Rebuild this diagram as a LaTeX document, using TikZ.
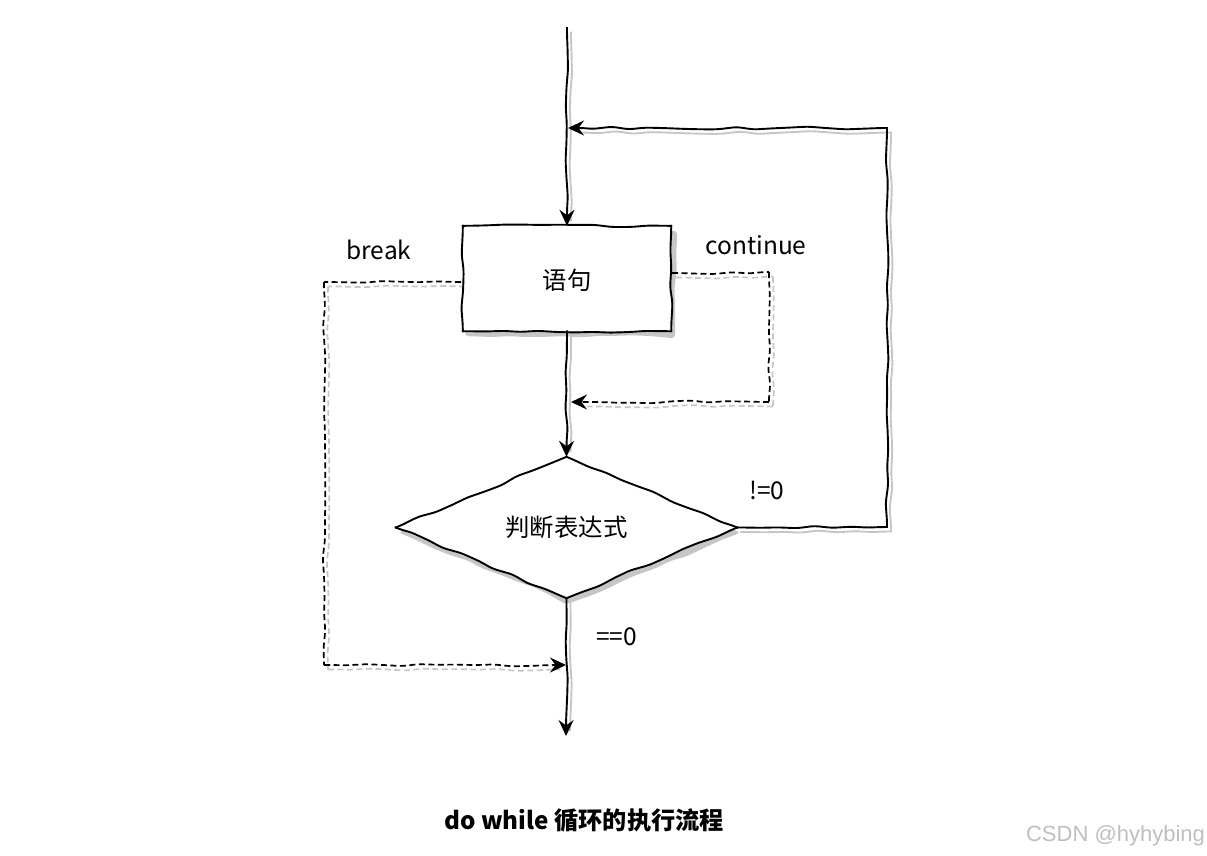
\documentclass[tikz,border=0pt]{standalone}
\usepackage{fontspec}
\setmainfont{Noto Sans CJK SC}
\usetikzlibrary{shapes.geometric,decorations.pathmorphing,arrows.meta,backgrounds}
\definecolor{shadowgray}{HTML}{C6C6C6}
\definecolor{markgray}{HTML}{BEBEBE}
\tikzset{
  x=1pt,y=-1pt,
  wobble/.style={decorate=false,rounded corners=4pt,
    decoration={random steps,segment length=18pt,amplitude=1.5pt,pre length=6pt,post length=#1}},
  wobble/.default=6pt,
  linebase/.style={wobble,line width=1.9pt,line cap=rect},
  mainline/.style={linebase,draw=black},
  shadeline/.style={linebase,draw=shadowgray,transform canvas={shift={(4pt,-4.5pt)}}},
  shadeend/.style={},
  tipped/.style={wobble=15pt,shadeend/.style={shorten >=10pt},-{Stealth[length=16pt,width=15pt,inset=5.5pt]}},
  dashedline/.style={dash pattern=on 6pt off 3.5pt,line width=1.7pt,line cap=butt},
  boxshape/.style={rectangle,minimum width=208pt,minimum height=105pt,inner sep=0pt},
  decisionshape/.style={diamond,aspect=2.42,minimum width=341pt,minimum height=141pt,inner sep=0pt},
  lbl/.style={font=\fontsize{24.5}{30}\selectfont,inner sep=0pt},
  cjklbl/.style={font=\fontsize{24.4}{30}\selectfont,inner sep=0pt},
  titlelbl/.style={font=\fontsize{24.2}{30}\selectfont\bfseries,inner sep=0pt},
  marklbl/.style={font=\fontsize{22}{26}\selectfont, text=markgray,inner sep=0pt},
}
\newfontfamily\markfont{Liberation Sans}
% one straight leg of a connector: #1 style, #2 seed, #3 from, #4 to
\newcommand{\sketchleg}[4][]{%
  \begin{scope}[on background layer]
    \pgfmathsetseed{#2}
    \draw[shadeline,#1,shadeend,-] decorate {(#3) -- (#4)};
  \end{scope}
  \pgfmathsetseed{#2}
  \draw[mainline,#1] decorate {(#3) -- (#4)};
}
% one edge of a shape outline
\newcommand{\sketchedge}[3]{%
  \pgfmathsetseed{#1}
  \draw[mainline] decorate {(#2) -- (#3)};
}
\begin{document}
\begin{tikzpicture}
\useasboundingbox (0,0) rectangle (1207,855);

% nodes
\node[boxshape,cjklbl,text height=22.5pt,text depth=0pt] (stmt) at (567,278.5) {语句};
\node[decisionshape,cjklbl] (cond) at (566.5,527.5) {判断表达式};

\node[lbl] (lbreak) at (379,250) {break};
\node[lbl] (lcont) at (756,245) {continue};
\node[lbl] (lne) at (767,490) {!=0};
\node[lbl] (leq) at (616.5,637) {==0};
\node[titlelbl] (title) at (584,820) {do while 循环的执行流程};
\node[marklbl] (mark) at (1115.5,836) {\markfont CSDN @hyhybing};

% free ends of connectors
\coordinate (top) at (567,28);
\coordinate (bottom) at (566,736);
\coordinate (loopin) at (568,128);
\coordinate (loopne) at (887,128);
\coordinate (loopse) at (887,527);
\coordinate (brkout) at (461,282);
\coordinate (brknw) at (324,282);
\coordinate (brksw) at (324,665);
\coordinate (brkin) at (566,665);
\coordinate (contout) at (672,273);
\coordinate (contne) at (769,272);
\coordinate (contse) at (769,402);
\coordinate (contin) at (571,402);

% connectors
\sketchleg[tipped]{3}{top}{stmt.north}
\sketchleg[tipped]{5}{stmt.south}{cond.north}
\sketchleg[tipped]{7}{cond.south}{bottom}
\sketchleg{9}{cond.east}{loopse}
\sketchleg{10}{loopse}{loopne}
\sketchleg[tipped]{12}{loopne}{loopin}
\sketchleg[dashedline]{13}{brkout}{brknw}
\sketchleg[dashedline]{14}{brknw}{brksw}
\sketchleg[dashedline,tipped]{15}{brksw}{brkin}
\sketchleg[dashedline]{17}{contout}{contne}
\sketchleg[dashedline]{18}{contne}{contse}
\sketchleg[dashedline,tipped]{19}{contse}{contin}

% shape shadows, fills and outlines
\begin{scope}[on background layer]
  \pgfmathsetseed{31}
  \fill[shadowgray,wobble,transform canvas={shift={(4pt,-5pt)}}]
    decorate {(stmt.north west) -- (stmt.north east) -- (stmt.south east) -- (stmt.south west) -- cycle};
  \fill[white] (stmt.north west) -- (stmt.north east) -- (stmt.south east) -- (stmt.south west) -- cycle;
  \sketchedge{41}{stmt.north west}{stmt.north east}
  \sketchedge{42}{stmt.north east}{stmt.south east}
  \sketchedge{43}{stmt.south east}{stmt.south west}
  \sketchedge{44}{stmt.south west}{stmt.north west}
  \pgfmathsetseed{33}
  \fill[shadowgray,wobble,transform canvas={shift={(3pt,-5pt)}}]
    decorate {(cond.north) -- (cond.east) -- (cond.south) -- (cond.west) -- cycle};
  \fill[white] (cond.north) -- (cond.east) -- (cond.south) -- (cond.west) -- cycle;
  \sketchedge{51}{cond.north}{cond.east}
  \sketchedge{52}{cond.east}{cond.south}
  \sketchedge{53}{cond.south}{cond.west}
  \sketchedge{54}{cond.west}{cond.north}
\end{scope}
\end{tikzpicture}
\end{document}
